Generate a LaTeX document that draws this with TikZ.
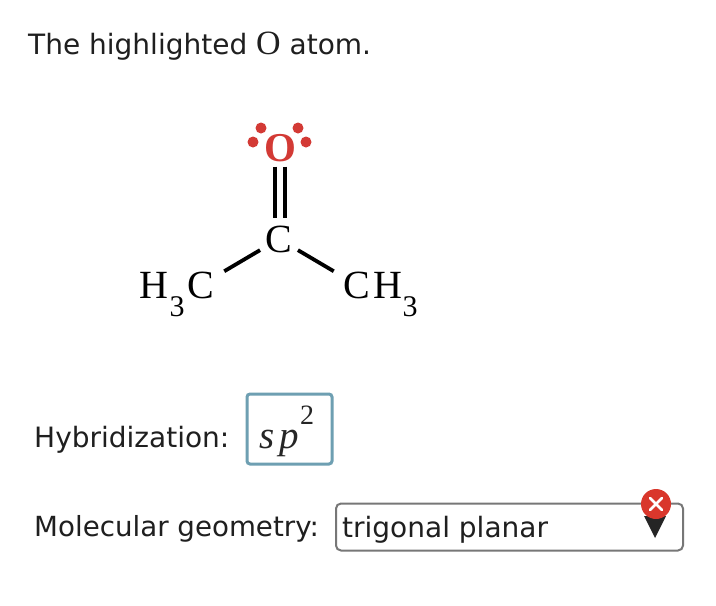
\documentclass[tikz,border=0pt]{standalone}
\usepackage{fontspec}
\setmainfont{DejaVu Sans}
\newfontfamily\serifatom{Liberation Serif}
\definecolor{atomred}{HTML}{D33A35}
\definecolor{boxteal}{HTML}{6E9FB2}
\definecolor{selectgray}{HTML}{777777}
\definecolor{xred}{HTML}{D9372C}
\definecolor{tridark}{HTML}{252525}
\tikzset{
  uitext/.style={anchor=base west,inner sep=0pt,font=\fontsize{28}{32}\selectfont,text=black!88},
  atom/.style={anchor=base,inner sep=0pt,font=\serifatom\fontsize{40}{44}\selectfont},
  sub/.style={anchor=base,inner sep=0pt,font=\serifatom\fontsize{30}{34}\selectfont},
  bond/.style={line width=3.8pt,draw=black},
  lonepair/.style={circle,fill=atomred,minimum size=11pt,inner sep=0pt},
}
\begin{document}
\begin{tikzpicture}[x=1pt,y=-1pt]
\useasboundingbox (0,0) rectangle (716,606);
\fill[white] (0,0) rectangle (716,606);
\node[uitext] (title) at (28,54) {The highlighted {\serifatom\fontsize{34}{36}\selectfont O} atom.};
% molecule
\node[atom,text=atomred,font=\serifatom\bfseries\fontsize{41}{44}\selectfont] (O) at (280,161) {O};
\node[atom] (C) at (279,252) {C};
\node[atom] (HL) at (154,298) {H};
\node[sub] (TL) at (177,316) {3};
\node[atom] (CL) at (201,298) {C};
\node[atom] (CR) at (357,298) {C};
\node[atom] (HR) at (388,298) {H};
\node[sub] (TR) at (410,316) {3};
\node[lonepair] (p1) at (261,128) {};
\node[lonepair] (p2) at (298,128) {};
\node[lonepair] (p3) at (253,142) {};
\node[lonepair] (p4) at (306,142) {};
\draw[bond,shorten <=5pt,shorten >=7pt] ([xshift=-5pt]O.south) -- ([xshift=-5pt]O.south |- C.north);
\draw[bond,shorten <=5pt,shorten >=7pt] ([xshift=5pt]O.south) -- ([xshift=5pt]O.south |- C.north);
\draw[bond,shorten <=22pt,shorten >=27pt] (C.center) -- (CL.center);
\draw[bond,shorten <=22pt,shorten >=27pt] (C.center) -- (CR.center);
% hybridization
\node[uitext] (hyb) at (34,447) {Hybridization:};
\node[draw=boxteal,line width=3pt,rounded corners=3pt,minimum width=85pt,minimum height=70pt,inner sep=0pt] (box) at (289.5,429) {};
\node[anchor=base,inner sep=0pt,font=\serifatom\itshape\fontsize{39}{42}\selectfont,text=black!85] (s) at (267,448) {s};
\node[anchor=base,inner sep=0pt,font=\serifatom\itshape\fontsize{39}{42}\selectfont,text=black!85] (p) at (289,448) {p};
\node[anchor=base,inner sep=0pt,font=\serifatom\fontsize{28}{32}\selectfont,text=black!85] (two) at (307,424) {2};
% geometry
\node[uitext,font=\fontsize{27.7}{32}\selectfont] (geo) at (34,536) {Molecular geometry:};
\node[draw=selectgray,line width=2pt,rounded corners=5pt,minimum width=347pt,minimum height=47pt,inner sep=0pt] (sel) at (509.5,527) {};
\node[uitext] (val) at (342,537) {trigonal planar};
\fill[tridark] (644,516) -- (666,516) -- (655,538) -- cycle;
\node[circle,fill=xred,minimum size=30pt,inner sep=0pt] (err) at (656,504) {};
\draw[white,line width=2.8pt,line cap=round] ([shift={(-6,-6)}]err.center) -- ([shift={(6,6)}]err.center);
\draw[white,line width=2.8pt,line cap=round] ([shift={(-6,6)}]err.center) -- ([shift={(6,-6)}]err.center);
\end{tikzpicture}
\end{document}
